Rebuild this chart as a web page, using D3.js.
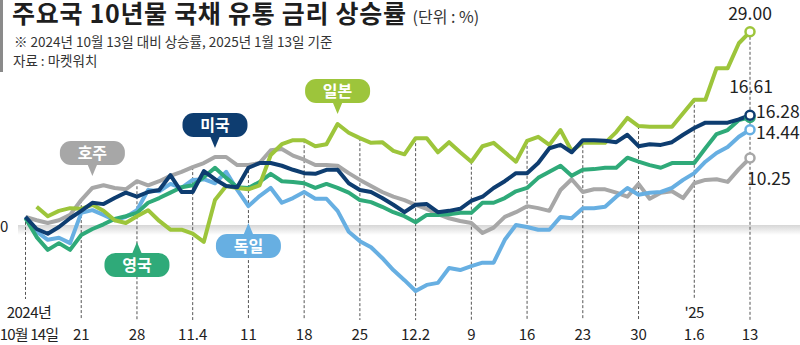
<!DOCTYPE html>
<html>
<head>
<meta charset="UTF-8">
<title>주요국 10년물 국채 유통 금리 상승률</title>
<style>
  body { margin: 0; background: #fff; }
  svg text { font-family: 'Noto Sans CJK KR', 'Noto Sans', sans-serif; }
  svg text.num { font-family: 'Liberation Sans Narrow', 'Noto Sans CJK KR', sans-serif; }
</style>
</head>
<body>
<div id="container"></div>
<script src="https://cdn.jsdelivr.net/npm/d3@7/dist/d3.min.js"></script>
<script>

// x axis: trading days from 2024-10-14 (index 0) to 2025-01-13 (index 65)
var tickIdx    = [0, 5, 10, 15, 20, 25, 30, 35, 40, 45, 50, 55, 60, 65];
var tickTop    = ["2024년", "", "", "", "", "", "", "", "", "", "", "", "'25", ""];
var tickBottom = ["10월 14일", "21", "28", "11.4", "11", "18", "25", "12.2", "9", "16", "23", "30", "1.6", "13"];

// rise vs 2024-10-13, %
var australia = [1.5, 1.0, 0.6, 1.0, 1.8, 4.0, 5.8, 6.2, 5.8, 5.6,
                 6.8, 6.2, 6.8, 7.6, 8.2, 8.9, 9.5, 10.4, 10.4, 9.2,
                 9.2, 9.5, 11.4, 11.6, 10.6, 10.0, 9.2, 9.2, 9.1, 8.0,
                 7.0, 6.1, 5.2, 4.5, 4.0, 3.3, 2.7, 1.9, 1.3, 0.9,
                 0.6, -0.9, -0.1, 1.5, 2.2, 3.1, 2.8, 2.4, 5.5, 7.1,
                 5.2, 5.6, 5.6, 5.1, 4.5, 6.4, 4.2, 5.1, 5.3, 4.3,
                 6.5, 7.0, 7.1, 6.7, 8.6, 10.25];
var germany   = [1.5, -0.7, -1.9, -1.6, -2.4, 2.1, 2.5, 1.8, 1.0, 1.5,
                 2.5, 5.5, 5.3, 6.4, 5.8, 7.0, 7.1, 6.5, 8.2, 5.5,
                 3.1, 4.6, 5.8, 3.6, 4.3, 5.2, 4.2, 4.2, 2.4, -0.7,
                 -2.1, -3.0, -4.6, -6.4, -7.9, -9.5, -8.6, -8.3, -6.1, -6.4,
                 -5.8, -5.3, -5.3, -1.9, 0.3, 0.0, -0.4, -0.4, 1.5, 1.3,
                 2.8, 2.8, 3.0, 4.5, 5.8, 4.8, 5.1, 5.2, 5.8, 7.0,
                 8.0, 9.7, 11.0, 11.9, 13.4, 14.44];
var uk        = [1.3, -1.5, -3.4, -2.4, -3.4, -1.2, -0.3, 0.4, 1.2, 1.6,
                 2.1, 3.6, 4.3, 5.1, 5.9, 6.2, 7.4, 8.8, 7.3, 5.9,
                 5.8, 6.7, 7.9, 6.8, 6.7, 6.5, 5.8, 6.4, 5.8, 5.1,
                 4.0, 3.7, 3.0, 2.2, 1.6, 0.7, 1.8, 1.8, 1.9, 2.1,
                 2.1, 3.6, 3.6, 4.3, 5.3, 5.8, 7.3, 8.2, 9.1, 7.6,
                 8.5, 8.6, 8.8, 8.8, 10.3, 9.7, 9.2, 8.8, 9.5, 9.5,
                 9.5, 11.7, 13.8, 14.4, 15.9, 16.28];
var japan     = [null, 3.0, 1.6, 2.4, 2.8, 2.7, 3.3, 2.4, 1.0, 0.6,
                 1.6, 2.5, 0.9, -0.4, -0.4, -1.0, -2.2, 4.0, 6.1, 5.8,
                 5.6, 6.2, 10.7, 12.3, 12.9, 12.9, 12.0, 12.3, 15.3, 14.0,
                 13.2, 12.5, 12.6, 11.3, 10.8, 13.2, 13.2, 11.1, 12.6, 11.1,
                 9.7, 12.0, 12.5, 11.1, 9.7, 12.8, 13.4, 12.2, 14.4, 11.3,
                 12.5, 12.5, 12.5, 14.1, 16.2, 15.0, 14.9, 14.9, 14.9, 16.9,
                 18.9, 18.9, 23.6, 23.6, 27.3, 29.00];
var usa       = [1.5, -0.3, -1.0, 0.0, 1.3, 2.4, 3.6, 3.4, 4.3, 5.1,
                 4.5, 5.2, 5.5, 7.7, 5.2, 5.2, 8.3, 7.1, 6.1, 5.9,
                 8.8, 9.5, 9.5, 9.1, 8.5, 8.0, 7.9, 8.5, 8.5, 6.5,
                 5.5, 5.2, 4.3, 3.3, 2.2, 3.3, 3.4, 2.2, 2.4, 2.7,
                 3.9, 4.5, 5.8, 6.8, 8.0, 8.0, 9.5, 11.7, 12.2, 11.1,
                 12.9, 12.9, 12.8, 12.6, 13.7, 12.0, 12.3, 12.2, 12.6, 13.7,
                 14.7, 15.5, 15.5, 15.5, 16.0, 16.61];

var series = [
  {name: "호주", values: australia, color: "#a7a7a7"},
  {name: "독일", values: germany,   color: "#67afe2"},
  {name: "영국", values: uk,        color: "#2faa79"},
  {name: "일본", values: japan,     color: "#9dc53b"},
  {name: "미국", values: usa,       color: "#0e3d70"}
];

// callouts: data index the pointer sits on, pointer tip y, pointing down or up
var callouts = [
  {name: "호주", i: 6,  tipY: 176, down: true},
  {name: "미국", i: 17, tipY: 148, down: true},
  {name: "일본", i: 28, tipY: 114, down: true},
  {name: "영국", i: 10, tipY: 242, down: false},
  {name: "독일", i: 20, tipY: 223, down: false}
];

// end value labels: offset from last point
var endLabels = {
  "일본": {dx: 0,  dy: -12, anchor: "middle"},
  "미국": {dx: 1,  dy: -22, anchor: "middle"},
  "영국": {dx: 6,  dy: 1,   anchor: "start"},
  "독일": {dx: 6,  dy: 9,   anchor: "start"},
  "호주": {dx: -3, dy: 27,  anchor: "start"}
};

var W = 800, H = 345;
var svg = d3.select("#container").append("svg")
  .attr("width", W).attr("height", H);

var x = d3.scaleLinear().domain([0, 65]).range([25.5, 750]);
var y = d3.scaleLinear().domain([0, 29]).range([227, 31.8]);

// header
svg.append("rect").attr("x", 0).attr("y", 0).attr("width", 3).attr("height", 72).attr("fill", "#8a8a8a");
var title = svg.append("text").attr("x", 12).attr("y", 23)
  .attr("fill", "#1e1e1e").style("font-size", "25px").style("font-weight", 700)
  .style("letter-spacing", "0.7px")
  .text("주요국 10년물 국채 유통 금리 상승률");
title.append("tspan").attr("dx", 6).style("font-size", "16px").style("font-weight", 400)
  .style("letter-spacing", "0px").attr("fill", "#333").text("(단위 : %)");
svg.append("text").attr("x", 14).attr("y", 47).attr("fill", "#333")
  .style("font-size", "13.5px").text("※ 2024년 10월 13일 대비 상승률, 2025년 1월 13일 기준");
svg.append("text").attr("x", 13).attr("y", 66).attr("fill", "#333")
  .style("font-size", "13.5px").text("자료 : 마켓워치");

// zero band
var defs = svg.append("defs");
var grad = defs.append("linearGradient").attr("id", "zeroBand")
  .attr("x1", 0).attr("y1", 0).attr("x2", 0).attr("y2", 1);
grad.append("stop").attr("offset", "0%").attr("stop-color", "#d6d6d6");
grad.append("stop").attr("offset", "100%").attr("stop-color", "#ffffff");
svg.append("rect").attr("x", 18).attr("y", y(0) - 2).attr("width", W - 18).attr("height", 10)
  .attr("fill", "url(#zeroBand)");
svg.append("text").attr("class", "num").attr("x", 0).attr("y", y(0) + 5)
  .attr("fill", "#222").style("font-size", "15px").text("0");

// dashed week lines, from the highest line down to the labels
var grid = svg.append("g");
tickIdx.forEach(function(t, k) {
  var top = d3.max(series, function(s) { return s.values[t]; });
  grid.append("line")
    .attr("x1", x(t)).attr("x2", x(t))
    .attr("y1", y(top)).attr("y2", tickTop[k] ? 299 : 320)
    .attr("stroke", "#555").attr("stroke-width", 1).attr("stroke-dasharray", "3,2");
});

var axis = svg.append("g");
tickIdx.forEach(function(t, k) {
  var cx = k === 0 ? 29 : x(t);
  if (tickTop[k]) {
    axis.append("text").attr("class", "num").attr("x", cx).attr("y", 318)
      .attr("text-anchor", "middle").attr("fill", "#222").style("font-size", "15px")
      .style("letter-spacing", "-0.5px")
      .text(tickTop[k]);
  }
  axis.append("text").attr("class", "num").attr("x", cx).attr("y", 340)
    .attr("text-anchor", "middle").attr("fill", "#222").style("font-size", "15px")
    .style("letter-spacing", k === 0 ? "-0.8px" : "0px")
    .text(tickBottom[k]);
});

// lines
var line = d3.line()
  .defined(function(d) { return d != null; })
  .x(function(d, i) { return x(i); })
  .y(function(d) { return y(d); });

svg.append("g").selectAll("path")
  .data(series).enter().append("path")
  .attr("d", function(s) { return line(s.values); })
  .attr("fill", "none")
  .attr("stroke", function(s) { return s.color; })
  .attr("stroke-width", 4)
  .attr("stroke-linejoin", "round");

// end markers and values
var last = 65;
series.forEach(function(s) {
  var v = s.values[last], lb = endLabels[s.name];
  svg.append("circle").attr("cx", x(last)).attr("cy", y(v)).attr("r", 4.5)
    .attr("fill", "#fff").attr("stroke", s.color).attr("stroke-width", 2.5);
  svg.append("text").attr("class", "num")
    .attr("x", x(last) + lb.dx).attr("y", y(v) + lb.dy)
    .attr("text-anchor", lb.anchor).attr("fill", "#222")
    .style("font-size", "17.5px")
    .text(d3.format(".2f")(v));
});

// name callouts
var bw = 65, bh = 24, ptr = 11;
callouts.forEach(function(c) {
  var s = series.find(function(d) { return d.name === c.name; });
  var cx = x(c.i), tip = c.tipY;
  var top = c.down ? tip - ptr - bh : tip + ptr;
  var g = svg.append("g");
  g.append("rect").attr("x", cx - bw / 2).attr("y", top).attr("width", bw).attr("height", bh)
    .attr("rx", 11).attr("fill", s.color);
  var edge = c.down ? top + bh - 1 : top + 1;
  g.append("path")
    .attr("d", "M" + (cx - 5) + "," + edge + "L" + cx + "," + tip + "L" + (cx + 5) + "," + edge + "Z")
    .attr("fill", s.color);
  g.append("text").attr("x", cx).attr("y", top + bh / 2 + 6)
    .attr("text-anchor", "middle").attr("fill", "#fff")
    .style("font-size", "16px").style("font-weight", 700)
    .text(c.name);
});

</script>
</body>
</html>
